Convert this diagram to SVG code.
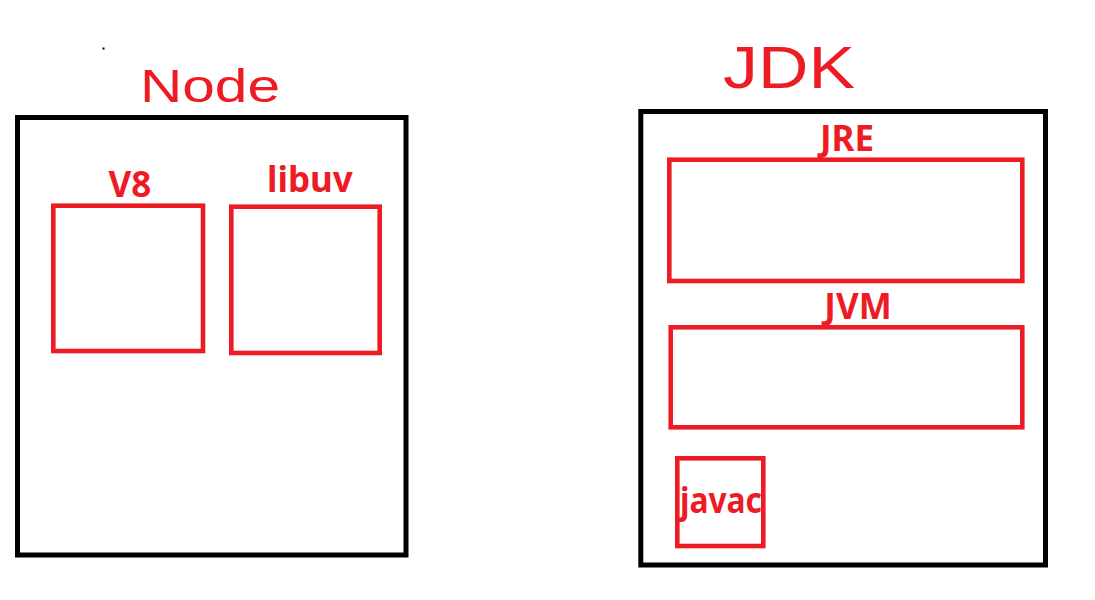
<svg xmlns="http://www.w3.org/2000/svg" width="1095" height="600" viewBox="0 0 1095 600">
<style>
.outer{fill:none;stroke:#000;stroke-width:5}
.inner{fill:none;stroke:#ED1C24;stroke-width:4.6}
.lbl{font-family:"Noto Sans","Liberation Sans",sans-serif;font-weight:bold;fill:#ED1C24;font-size:35px;text-anchor:middle}
.hand{font-family:"Liberation Sans","DejaVu Sans",sans-serif;fill:#ED1C24}
</style>
<rect width="1095" height="600" fill="#fff"/>
<rect x="102.5" y="47.5" width="2" height="2" fill="#000"/>
<g id="node">
<text class="hand" x="140" y="102" font-size="46" textLength="140" lengthAdjust="spacingAndGlyphs">Node</text>
<rect class="outer" x="17.5" y="117.5" width="388.5" height="437.5"/>
</g>
<g id="v8">
<text class="lbl" x="130" y="197">V8</text>
<rect class="inner" x="53.3" y="205.7" width="149.7" height="145.3"/>
</g>
<g id="libuv">
<text class="lbl" x="310" y="192">libuv</text>
<rect class="inner" x="231.3" y="206.7" width="148.4" height="146.3"/>
</g>
<g id="jdk">
<text class="hand" x="723" y="88" font-size="60" textLength="132" lengthAdjust="spacingAndGlyphs">JDK</text>
<rect class="outer" x="640.8" y="111.5" width="404.7" height="453.5"/>
</g>
<g id="jre">
<text class="lbl" x="847" y="151">JRE</text>
<rect class="inner" x="669.3" y="159.7" width="353" height="121.3"/>
</g>
<g id="jvm">
<text class="lbl" x="858" y="319">JVM</text>
<rect class="inner" x="670.7" y="327.3" width="351.6" height="100"/>
</g>
<g id="javac">
<text class="lbl" x="721" y="513" font-size="34" textLength="82" lengthAdjust="spacingAndGlyphs">javac</text>
<rect class="inner" x="677.3" y="458.3" width="86" height="87.7"/>
</g>
<g id="connectors"></g>
</svg>
